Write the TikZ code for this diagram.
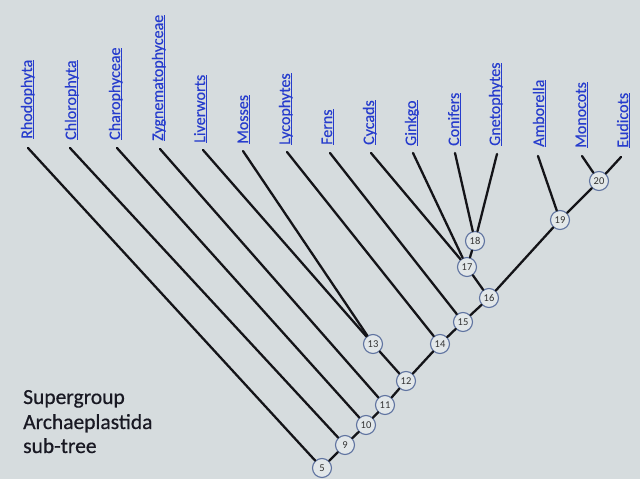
\documentclass[tikz,border=0pt]{standalone}
\usepackage{fontspec}
\setmainfont{Carlito}
\newfontfamily\capfont[FakeBold=0.6]{Carlito}
\newfontfamily\taxfont[FakeBold=0.3]{Carlito}
\definecolor{bg}{RGB}{214,220,222}
\definecolor{lnk}{RGB}{38,60,205}
\definecolor{ring}{RGB}{95,115,160}
\definecolor{disc}{RGB}{226,231,233}
\definecolor{edge}{RGB}{20,20,24}
\definecolor{cap}{RGB}{25,25,35}
\newcommand\lnkul[1]{\setbox0=\hbox{#1}\rlap{\color{lnk}\rule[-2.2pt]{\wd0}{0.8pt}}\box0}
\begin{document}
\begin{tikzpicture}[x=1pt,y=-1pt,
  taxon/.style={rotate=90,anchor=base west,inner sep=0pt,text=lnk,font=\taxfont\fontsize{16}{16}\selectfont},
  clade/.style={circle,draw=ring,fill=disc,line width=1.1pt,minimum size=19pt,inner sep=0pt,font=\fontsize{10.5}{10.5}\selectfont,text=black!80},
  branch/.style={draw=edge,line width=2.3pt,line cap=round},
  caption/.style={anchor=base west,inner sep=0pt,text=cap,font=\capfont\fontsize{21.5}{21.5}\selectfont}]
\fill[bg] (0,0) rectangle (640,479);
\useasboundingbox (0,0) rectangle (640,479);

% taxon labels
\node[taxon] (t1) at (32,139) {\lnkul{Rhodophyta}};
\node[taxon] (t2) at (76,140) {\lnkul{Chlorophyta}};
\node[taxon] (t3) at (120,140) {\lnkul{Charophyceae}};
\node[taxon] (t4) at (163,141) {\lnkul{Zygnematophyceae}};
\node[taxon] (t5) at (205,143) {\lnkul{Liverworts}};
\node[taxon] (t6) at (248,144) {\lnkul{Mosses}};
\node[taxon] (t7) at (290,145) {\lnkul{Lycophytes}};
\node[taxon] (t8) at (332,145) {\lnkul{Ferns}};
\node[taxon] (t9) at (374,145) {\lnkul{Cycads}};
\node[taxon] (t10) at (416,146) {\lnkul{Ginkgo}};
\node[taxon] (t11) at (459,146) {\lnkul{Conifers}};
\node[taxon] (t12) at (500,146) {\lnkul{Gnetophytes}};
\node[taxon] (t13) at (544,147) {\lnkul{Amborella}};
\node[taxon] (t14) at (586,148) {\lnkul{Monocots}};
\node[taxon] (t15) at (628,148) {\lnkul{Eudicots}};

% leaf ends
\coordinate (l1) at (28,148);
\coordinate (l2) at (70,148);
\coordinate (l3) at (117,148);
\coordinate (l4) at (160,149);
\coordinate (l5) at (203,150);
\coordinate (l6) at (243,151);
\coordinate (l7) at (287,152);
\coordinate (l8) at (330,153);
\coordinate (l9) at (371,153);
\coordinate (l10) at (413,153);
\coordinate (l11) at (455,153);
\coordinate (l12) at (497,154);
\coordinate (l13) at (538,156);
\coordinate (l14) at (582,156);
\coordinate (l15) at (621,157);

% internal nodes
\node[clade] (n5) at (322,468) {5};
\node[clade] (n9) at (345,445) {9};
\node[clade] (n10) at (366,425) {10};
\node[clade] (n11) at (385,405) {11};
\node[clade] (n12) at (406,381) {12};
\node[clade] (n13) at (373,344) {13};
\node[clade] (n14) at (440,344) {14};
\node[clade] (n15) at (463,322) {15};
\node[clade] (n16) at (489,298) {16};
\node[clade] (n17) at (467,267) {17};
\node[clade] (n18) at (475,241) {18};
\node[clade] (n19) at (560,220) {19};
\node[clade] (n20) at (599,181) {20};

% branches
\draw[branch] (l1) -- (n5);
\draw[branch] (l2) -- (n9);
\draw[branch] (l3) -- (n10);
\draw[branch] (l4) -- (n11);
\draw[branch] (l5) -- (n13);
\draw[branch] (l6) -- (n13);
\draw[branch] (l7) -- (n14);
\draw[branch] (l8) -- (n15);
\draw[branch] (l9) -- (n17);
\draw[branch] (l10) -- (n17);
\draw[branch] (l11) -- (n18);
\draw[branch] (l12) -- (n18);
\draw[branch] (l13) -- (n19);
\draw[branch] (l14) -- (n20);
\draw[branch] (l15) -- (n20);
\draw[branch] (n5) -- (n9);
\draw[branch] (n9) -- (n10);
\draw[branch] (n10) -- (n11);
\draw[branch] (n11) -- (n12);
\draw[branch] (n12) -- (n13);
\draw[branch] (n12) -- (n14);
\draw[branch] (n14) -- (n15);
\draw[branch] (n15) -- (n16);
\draw[branch] (n16) -- (n17);
\draw[branch] (n17) -- (n18);
\draw[branch] (n16) -- (n19);
\draw[branch] (n19) -- (n20);

% caption
\node[caption] (c1) at (23,404) {Supergroup};
\node[caption] (c2) at (23,429) {Archaeplastida};
\node[caption] (c3) at (23,453) {sub-tree};
\end{tikzpicture}
\end{document}
